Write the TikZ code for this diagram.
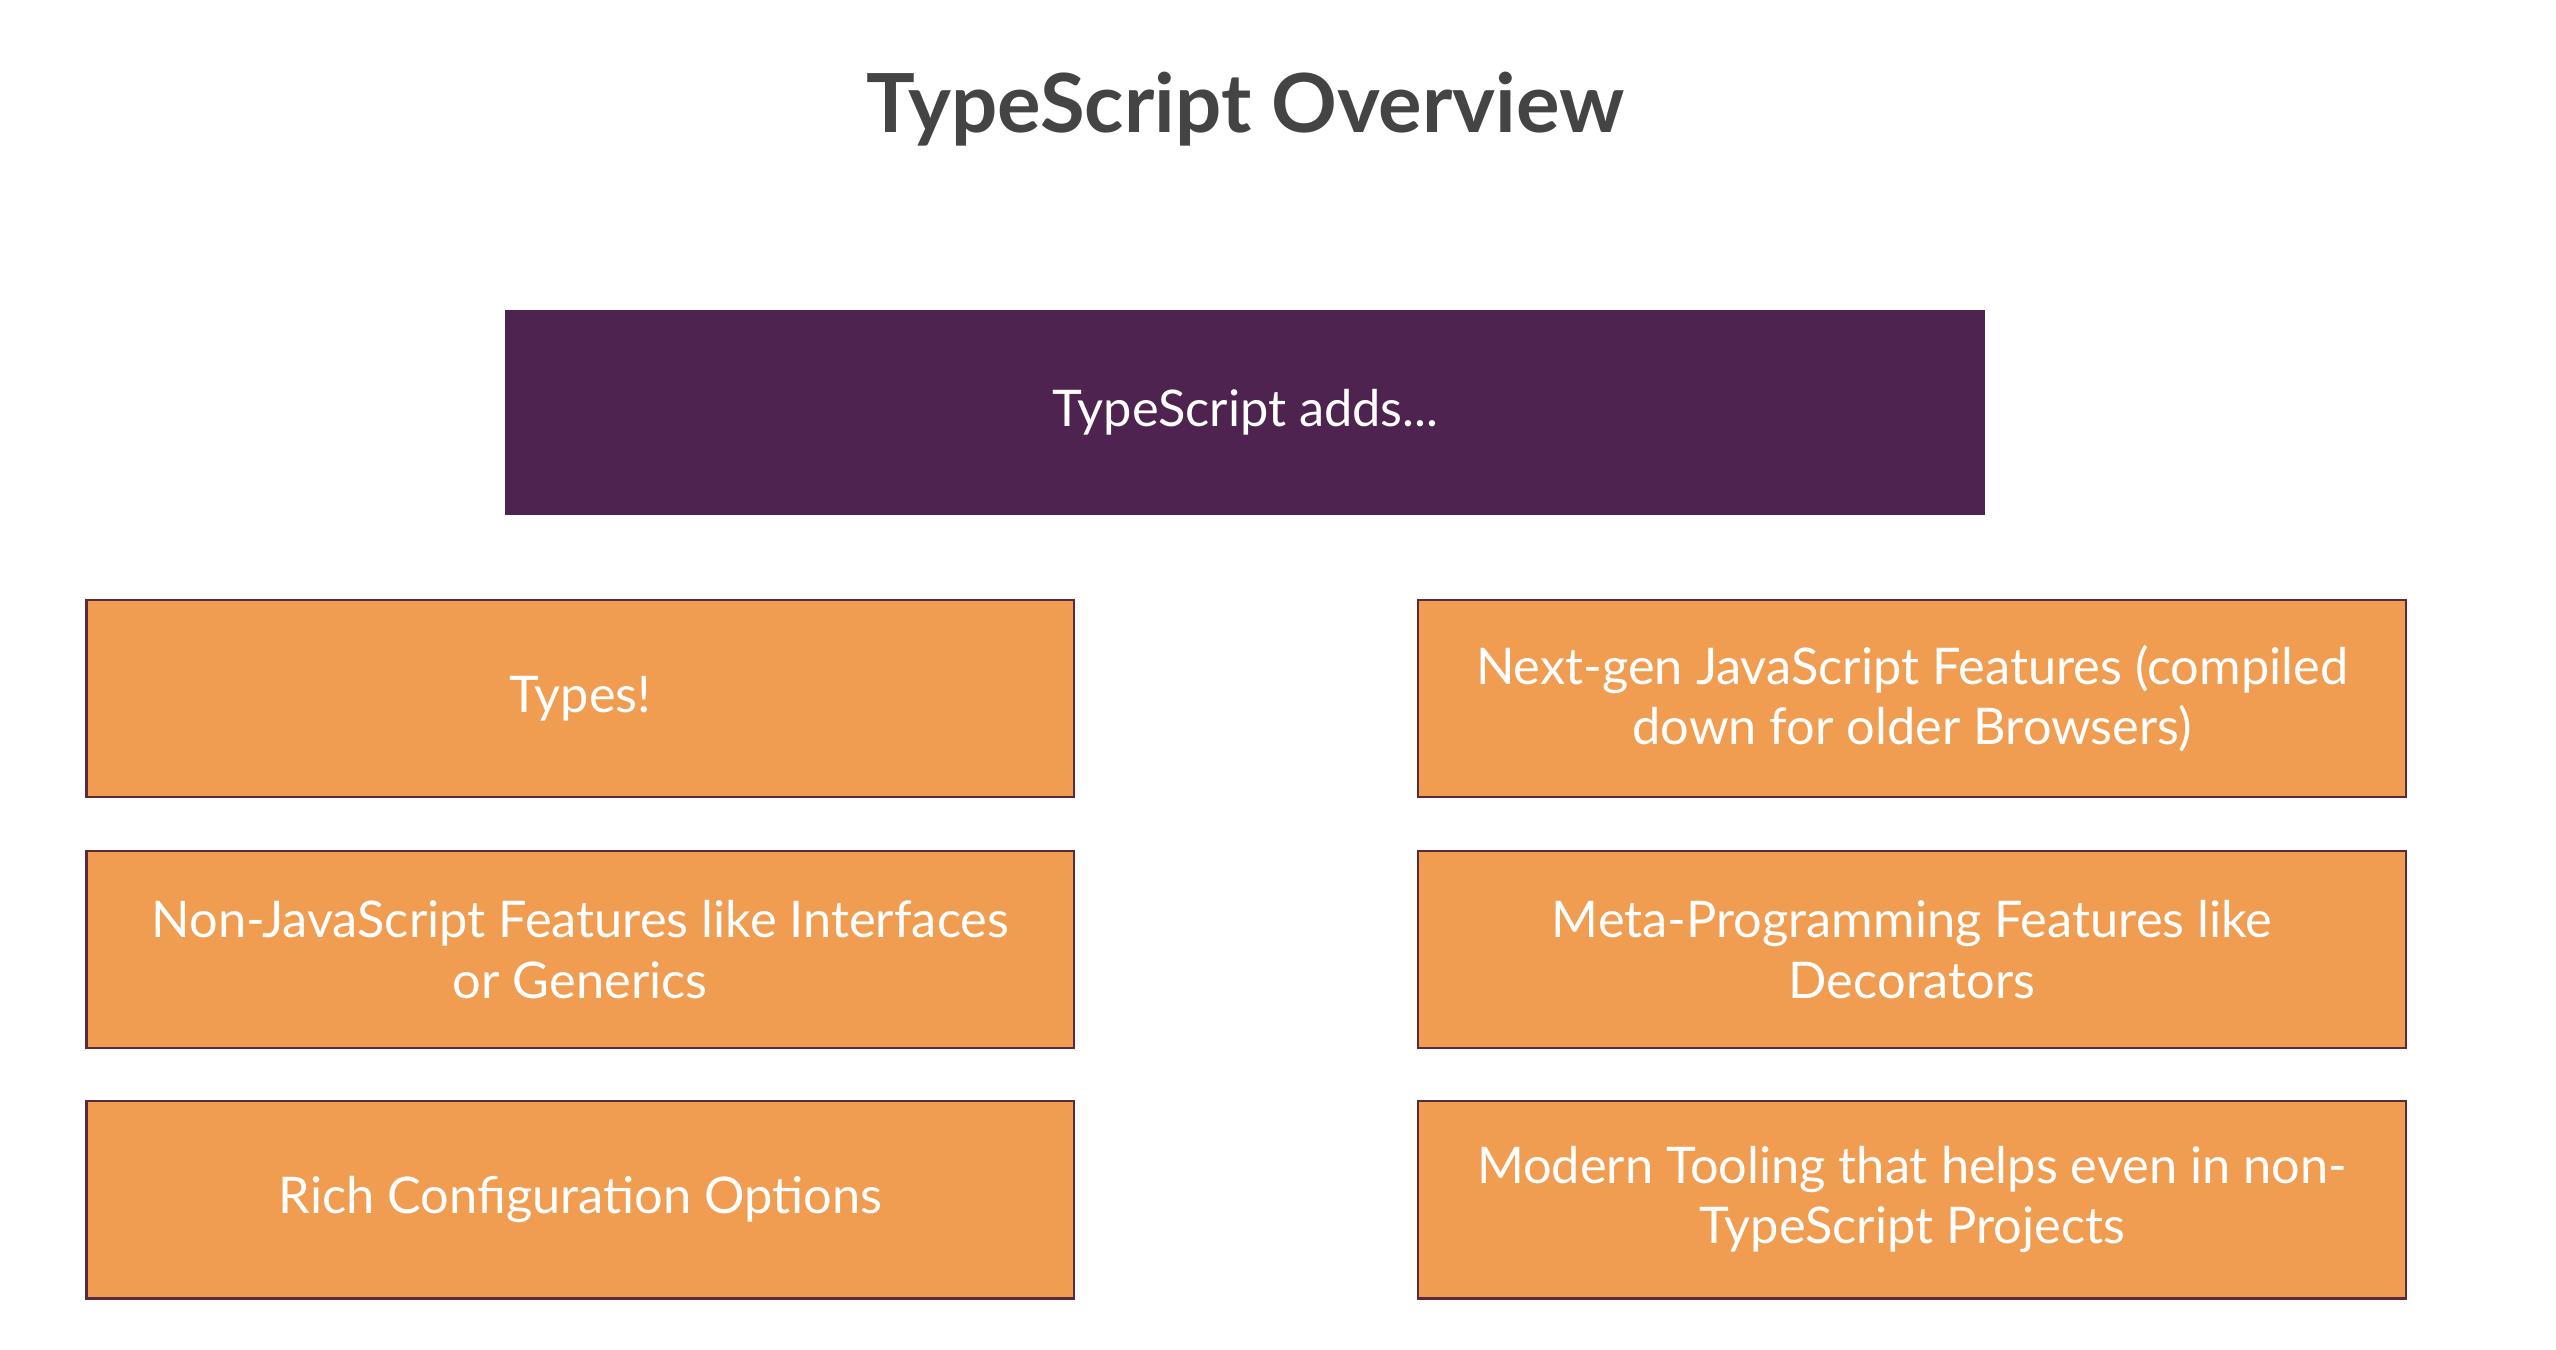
\documentclass[tikz,border=0pt]{standalone}
\usepackage{fontspec}
\setmainfont{Lato}
\definecolor{purp}{HTML}{4E2350}
\definecolor{orng}{HTML}{F09D51}
\definecolor{edge}{HTML}{5A2A3A}
\definecolor{ttl}{HTML}{444444}
\begin{document}
\begin{tikzpicture}[x=1pt,y=-1pt,
  obox/.style={draw=edge,line width=1.5pt,fill=orng,minimum width=606pt,minimum height=121pt,align=center,text=white,font=\fontsize{31}{37}\selectfont,inner sep=0pt},
  pbox/.style={fill=purp,minimum width=908pt,minimum height=126pt,text=white,font=\fontsize{31}{37}\selectfont,inner sep=0pt}]
\useasboundingbox[fill=white] (0,0) rectangle (1568,828);
\node[text=ttl,font=\fontsize{50}{56}\selectfont\bfseries] (title) at (764,67) {TypeScript Overview};
\node[pbox] (adds) at (764,253) {TypeScript adds...};
\node[obox] (a) at (356,428.5) {Types!};
\node[obox] (b) at (1173,428.5) {Next-gen JavaScript Features (compiled\\down for older Browsers)};
\node[obox] (c) at (356,582.5) {Non-JavaScript Features like Interfaces\\or Generics};
\node[obox] (d) at (1173,582.5) {Meta-Programming Features like\\Decorators};
\node[obox] (e) at (356,736) {Rich Configuration Options};
\node[obox] (f) at (1173,736) {Modern Tooling that helps even in non-\\TypeScript Projects};
\end{tikzpicture}
\end{document}
